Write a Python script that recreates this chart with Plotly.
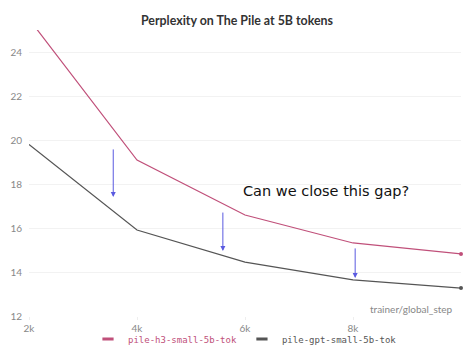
import plotly.graph_objects as go

steps = [2000, 4000, 6000, 8000, 10000]
h3_ppl = [25.5, 19.09, 16.59, 15.32, 14.82]
gpt_ppl = [19.8, 15.91, 14.45, 13.64, 13.27]
h3_name = "pile-h3-small-5b-tok"
gpt_name = "pile-gpt-small-5b-tok"
h3_color = "#c0507a"
gpt_color = "#555555"
arrow_x = [3560, 5590, 8040]
arrow_top = [19.64, 16.77, 15.14]
arrow_bottom = [17.41, 14.95, 13.73]
y_ticks = [12, 14, 16, 18, 20, 22, 24]
x_ticks = [2000, 4000, 6000, 8000]
x_labels = ["2k", "4k", "6k", "8k"]

fig = go.Figure()
for name, ys, col in [(h3_name, h3_ppl, h3_color), (gpt_name, gpt_ppl, gpt_color)]:
    fig.add_trace(go.Scatter(x=steps, y=ys, mode="lines", line=dict(color=col, width=1.2),
                             showlegend=False, cliponaxis=True))
    fig.add_trace(go.Scatter(x=[steps[-1]], y=[ys[-1]], mode="markers",
                             marker=dict(color=col, size=4), showlegend=False, cliponaxis=False))
    fig.add_trace(go.Scatter(x=[None], y=[None], mode="markers",
                             name=f"<span style='color:{col}'>{name}</span>",
                             marker=dict(symbol="line-ew", size=8, line=dict(color=col, width=3)),
                             showlegend=True))

for ax_, y0, y1 in zip(arrow_x, arrow_top, arrow_bottom):
    fig.add_annotation(x=ax_, y=y1, ax=ax_, ay=y0, xref="x", yref="y", axref="x", ayref="y",
                       text="", showarrow=True, arrowhead=2, arrowsize=1, arrowwidth=1,
                       arrowcolor="#5a5ae0")

fig.add_annotation(x=7500, y=17.7, xref="x", yref="y", text="Can we close this gap?",
                   showarrow=False, font=dict(family="DejaVu Sans", size=14.5, color="#111"))
fig.add_annotation(x=0.985, y=0.024, xref="paper", yref="paper", text="trainer/global_step",
                   showarrow=False, xanchor="right", yanchor="middle",
                   font=dict(family="Lato", size=10, color="#888"))

fig.update_layout(
    width=474, height=350,
    margin=dict(l=29, r=13, t=30, b=34, autoexpand=False),
    paper_bgcolor="white", plot_bgcolor="white",
    title=dict(text="<b>Perplexity on The Pile at 5B tokens</b>", x=0.5, xanchor="center",
               y=1 - 20.5 / 350, yanchor="middle",
               font=dict(family="Lato", size=12.4, color="#333")),
    font=dict(family="Lato", size=10, color="#888"),
    legend=dict(orientation="h", x=0.5, xanchor="center", y=-23 / 286, yanchor="middle",
                font=dict(family="DejaVu Sans Mono", size=9), itemwidth=30,
                bgcolor="rgba(0,0,0,0)"),
    xaxis=dict(range=[2000, 10000], tickvals=x_ticks, ticktext=x_labels, showgrid=False,
               zeroline=False, showline=False, ticks="outside", ticklen=3, tickcolor="#eee",
               tickfont=dict(color="#888", size=10)),
    yaxis=dict(range=[12, 25], tickvals=y_ticks, showgrid=True, gridcolor="#f2f2f2",
               zeroline=False, showline=False, ticklabelstandoff=6,
               tickfont=dict(color="#888", size=10)),
)
fig.write_html("out.html")
